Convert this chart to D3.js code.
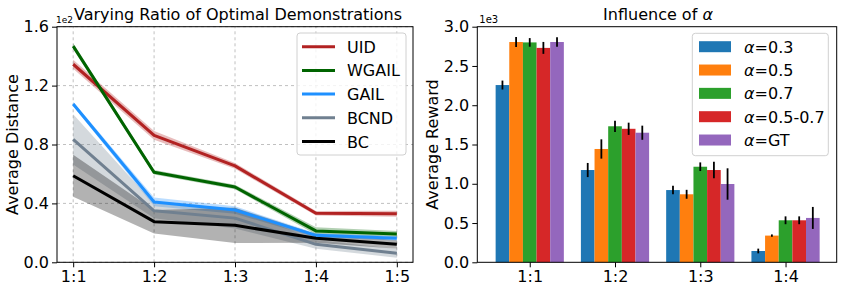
<!DOCTYPE html>
<html><head><meta charset="utf-8">
<script src="https://cdn.jsdelivr.net/npm/d3@7"></script>
<style>
body{margin:0;background:#fff;}
text{font-family:"DejaVu Sans",sans-serif;fill:#000;}
</style></head><body>
<svg id="c" width="846" height="290"></svg>
<script>
// ---- Left chart data (units of 1e2) ----
const ratios = ["1:1","1:2","1:3","1:4","1:5"];
const methods = ["UID","WGAIL","GAIL","BCND","BC"];
const methodColors = ["#b22222","#006400","#1e90ff","#708090","#000000"];
const uidMean   = [1.345,0.862,0.655,0.333,0.330];
const uidStd    = [0.030,0.030,0.020,0.015,0.020];
const wgailMean = [1.468,0.611,0.511,0.213,0.192];
const wgailStd  = [0.020,0.015,0.015,0.025,0.020];
const gailMean  = [1.075,0.410,0.355,0.183,0.163];
const gailStd   = [0.015,0.030,0.025,0.015,0.015];
const bcndMean  = [0.835,0.350,0.300,0.122,0.061];
const bcndStd   = [0.170,0.050,0.070,0.030,0.030];
const bcMean    = [0.588,0.276,0.251,0.163,0.122];
const bcStd     = [0.143,0.080,0.120,0.030,0.030];
const leftYTicks = [0.0,0.4,0.8,1.2,1.6];

// ---- Right chart data (units of 1e3) ----
const groups = ["1:1","1:2","1:3","1:4"];
const alphas = ["0.3","0.5","0.7","0.5-0.7","GT"];
const alphaColors = ["#1f77b4","#ff7f0e","#2ca02c","#d62728","#9467bd"];
const a03  = [2.257,1.175,0.920,0.144];
const a03e = [0.057,0.090,0.055,0.030];
const a05  = [2.805,1.443,0.866,0.340];
const a05e = [0.064,0.123,0.057,0.015];
const a07  = [2.800,1.732,1.217,0.535];
const a07e = [0.055,0.072,0.055,0.050];
const a0507  = [2.730,1.700,1.175,0.535];
const a0507e = [0.076,0.078,0.106,0.050];
const aGT  = [2.805,1.650,0.997,0.565];
const aGTe = [0.060,0.090,0.200,0.140];
const rightYTicks = [0.0,0.5,1.0,1.5,2.0,2.5,3.0];

const FS = "16px";
const svg = d3.select("#c");

// ================= LEFT =================
const L = {x0:57, x1:413, y0:262.3, y1:26.7};
const lx = d3.scaleLinear().domain([-0.2,4.2]).range([L.x0,L.x1]);
const ly = d3.scaleLinear().domain([0,1.6]).range([L.y0,L.y1]);
const gl = svg.append("g");

// grid
gl.selectAll(".gx").data(ratios).enter().append("line")
  .attr("x1",(d,i)=>lx(i)).attr("x2",(d,i)=>lx(i)).attr("y1",L.y0).attr("y2",L.y1)
  .attr("stroke","#b0b0b0").attr("stroke-width",0.8).attr("stroke-dasharray","3,3");
gl.selectAll(".gy").data(leftYTicks).enter().append("line")
  .attr("x1",L.x0).attr("x2",L.x1).attr("y1",d=>ly(d)).attr("y2",d=>ly(d))
  .attr("stroke","#b0b0b0").attr("stroke-width",0.8).attr("stroke-dasharray","3,3");

const series = [
  {name:"UID",m:uidMean,s:uidStd,c:methodColors[0],fa:0.3},
  {name:"WGAIL",m:wgailMean,s:wgailStd,c:methodColors[1],fa:0.3},
  {name:"GAIL",m:gailMean,s:gailStd,c:methodColors[2],fa:0.3},
  {name:"BCND",m:bcndMean,s:bcndStd,c:methodColors[3],fa:0.3},
  {name:"BC",m:bcMean,s:bcStd,c:methodColors[4],fa:0.3}
];
const area = d3.area().x((d,i)=>lx(i)).y0(d=>ly(d[0])).y1(d=>ly(d[1]));
const line = d3.line().x((d,i)=>lx(i)).y(d=>ly(d));
series.forEach(sr=>{
  gl.append("path").datum(sr.m.map((v,i)=>[v-sr.s[i],v+sr.s[i]]))
    .attr("d",area).attr("fill",sr.c).attr("fill-opacity",sr.fa);
});
series.forEach(sr=>{
  gl.append("path").datum(sr.m).attr("d",line).attr("fill","none")
    .attr("stroke",sr.c).attr("stroke-width",3).attr("stroke-linejoin","round");
});

// axes
const lxAxis = d3.axisBottom(lx).tickValues([0,1,2,3,4]).tickFormat(i=>ratios[i]).tickSize(5).tickPadding(3);
const lyAxis = d3.axisLeft(ly).tickValues(leftYTicks).tickFormat(d3.format(".1f")).tickSize(5).tickPadding(3);
const gxa = gl.append("g").attr("transform",`translate(0,${L.y0})`).call(lxAxis);
const gya = gl.append("g").attr("transform",`translate(${L.x0},0)`).call(lyAxis);
[gxa,gya].forEach(g=>{g.select(".domain").remove();g.selectAll("text").style("font-size",FS).attr("fill","#000");g.selectAll("line").attr("stroke","#000");});
gl.append("rect").attr("x",L.x0).attr("y",L.y1).attr("width",L.x1-L.x0).attr("height",L.y0-L.y1)
  .attr("fill","none").attr("stroke","#000").attr("stroke-width",1);

gl.append("text").attr("x",238).attr("y",20).attr("text-anchor","middle").style("font-size",FS).text("Varying Ratio of Optimal Demonstrations");
gl.append("text").attr("x",L.x0-1).attr("y",23).style("font-size","9px").text("1e2");
gl.append("text").attr("transform",`translate(18,${(L.y0+L.y1)/2}) rotate(-90)`).attr("text-anchor","middle")
  .style("font-size",FS).text("Average Distance");

// legend
const lg = gl.append("g");
lg.append("rect").attr("x",297).attr("y",33).attr("width",109).attr("height",122).attr("rx",3)
  .attr("fill","#fff").attr("fill-opacity",0.8).attr("stroke","#d0d0d0").attr("stroke-width",1);
methods.forEach((m,i)=>{
  const yy = 46.7 + i*23.7;
  lg.append("line").attr("x1",302).attr("x2",335).attr("y1",yy).attr("y2",yy).attr("stroke",methodColors[i]).attr("stroke-width",3);
  lg.append("text").attr("x",347).attr("y",yy+6).style("font-size",FS).text(m);
});

// ================= RIGHT =================
const R = {x0:477.3, x1:836.7, y0:262.3, y1:26.7};
const rx = d3.scaleLinear().domain([-0.615,3.6]).range([R.x0,R.x1]);
const ry = d3.scaleLinear().domain([0,3.0]).range([R.y0,R.y1]);
const gr = svg.append("g");
const barW = 0.16;
const vals = [a03,a05,a07,a0507,aGT];
const errs = [a03e,a05e,a07e,a0507e,aGTe];
vals.forEach((arr,k)=>{
  const off = (k-2)*barW;
  gr.selectAll(".b"+k).data(arr).enter().append("rect")
    .attr("x",(d,i)=>rx(i+off-barW/2)).attr("width",rx(barW)-rx(0))
    .attr("y",d=>ry(d)).attr("height",d=>ry(0)-ry(d)).attr("fill",alphaColors[k]);
});
vals.forEach((arr,k)=>{
  const off = (k-2)*barW;
  gr.selectAll(".e"+k).data(arr).enter().append("line")
    .attr("x1",(d,i)=>rx(i+off)).attr("x2",(d,i)=>rx(i+off))
    .attr("y1",(d,i)=>ry(d-errs[k][i])).attr("y2",(d,i)=>ry(d+errs[k][i]))
    .attr("stroke","#000").attr("stroke-width",1.8);
});
const rxAxis = d3.axisBottom(rx).tickValues([0,1,2,3]).tickFormat(i=>groups[i]).tickSize(5).tickPadding(3);
const ryAxis = d3.axisLeft(ry).tickValues(rightYTicks).tickFormat(d3.format(".1f")).tickSize(5).tickPadding(3);
const rgx = gr.append("g").attr("transform",`translate(0,${R.y0})`).call(rxAxis);
const rgy = gr.append("g").attr("transform",`translate(${R.x0},0)`).call(ryAxis);
[rgx,rgy].forEach(g=>{g.select(".domain").remove();g.selectAll("text").style("font-size",FS).attr("fill","#000");g.selectAll("line").attr("stroke","#000");});
gr.append("rect").attr("x",R.x0).attr("y",R.y1).attr("width",R.x1-R.x0).attr("height",R.y0-R.y1)
  .attr("fill","none").attr("stroke","#000").attr("stroke-width",1);

const tt = gr.append("text").attr("x",658).attr("y",20).attr("text-anchor","middle").style("font-size",FS);
tt.append("tspan").text("Influence of ");
tt.append("tspan").style("font-style","italic").text("α");
gr.append("text").attr("x",R.x0+2).attr("y",23).style("font-size","10px").text("1e3");
gr.append("text").attr("transform",`translate(438,${(R.y0+R.y1)/2}) rotate(-90)`).attr("text-anchor","middle")
  .style("font-size",FS).text("Average Reward");

const rl = gr.append("g");
rl.append("rect").attr("x",692.3).attr("y",33.3).attr("width",136).attr("height",122.4).attr("rx",3)
  .attr("fill","#fff").attr("fill-opacity",0.8).attr("stroke","#d0d0d0").attr("stroke-width",1);
alphas.forEach((a,i)=>{
  const yy = 46.7 + i*23.33;
  rl.append("rect").attr("x",699).attr("y",yy-5.5).attr("width",32).attr("height",11).attr("fill",alphaColors[i]);
  const t = rl.append("text").attr("x",744).attr("y",yy+6).style("font-size",FS);
  t.append("tspan").style("font-style","italic").text("α");
  t.append("tspan").text("="+a);
});
</script>
</body></html>
